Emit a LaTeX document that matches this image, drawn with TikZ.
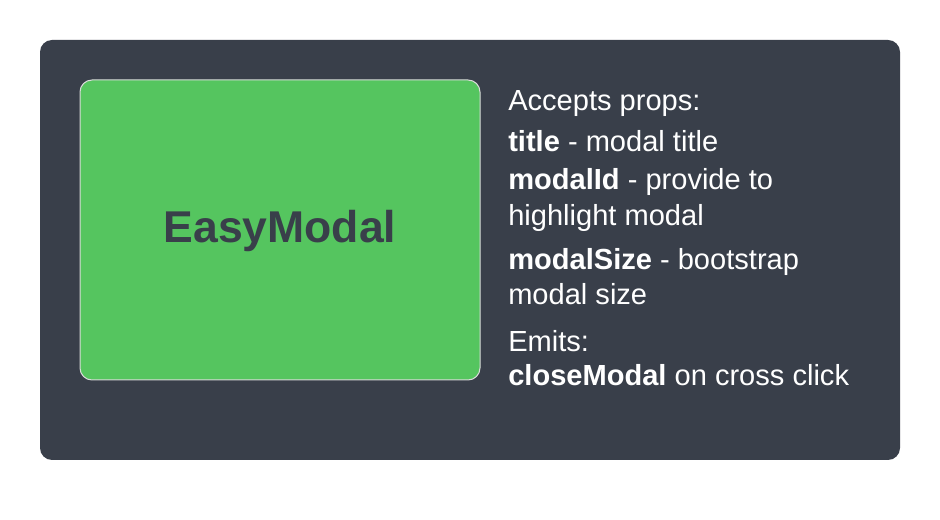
\documentclass[tikz,border=0pt]{standalone}
\usepackage{fontspec}
\setmainfont{Liberation Sans}
\definecolor{panel}{HTML}{393F4A}
\definecolor{boxgreen}{HTML}{55C55F}
\definecolor{boxedge}{HTML}{DADADA}
\begin{document}
\begin{tikzpicture}[x=0.75pt,y=-0.75pt,
  txt/.style={anchor=base west, inner sep=0pt, text=white, font=\fontsize{21.8}{26}\selectfont},
  title/.style={anchor=base, inner sep=0pt, text=panel, font=\fontsize{33.4}{40}\selectfont\bfseries}]
\useasboundingbox[fill=white] (0,0) rectangle (940,520);
\fill[panel, rounded corners=9pt] (40,40) rectangle (900,460);
\draw[fill=boxgreen, draw=boxedge, line width=0.75pt, rounded corners=9pt] (80,80) rectangle (480,380);
\node[title] (em) at (280,243) {EasyModal};
\node[txt] (l1) at (508,111) {Accepts props:};
\node[txt] (l2) at (508,152) {\textbf{title} - modal title};
\node[txt] (l3) at (508,190) {\textbf{modalId} - provide to};
\node[txt] (l4) at (508,226) {highlight modal};
\node[txt] (l5) at (508,270) {\textbf{modalSize} - bootstrap};
\node[txt] (l6) at (508,305) {modal size};
\node[txt] (l7) at (508,352) {Emits:};
\node[txt] (l8) at (508,386) {\textbf{closeModal} on cross click};
\end{tikzpicture}
\end{document}
